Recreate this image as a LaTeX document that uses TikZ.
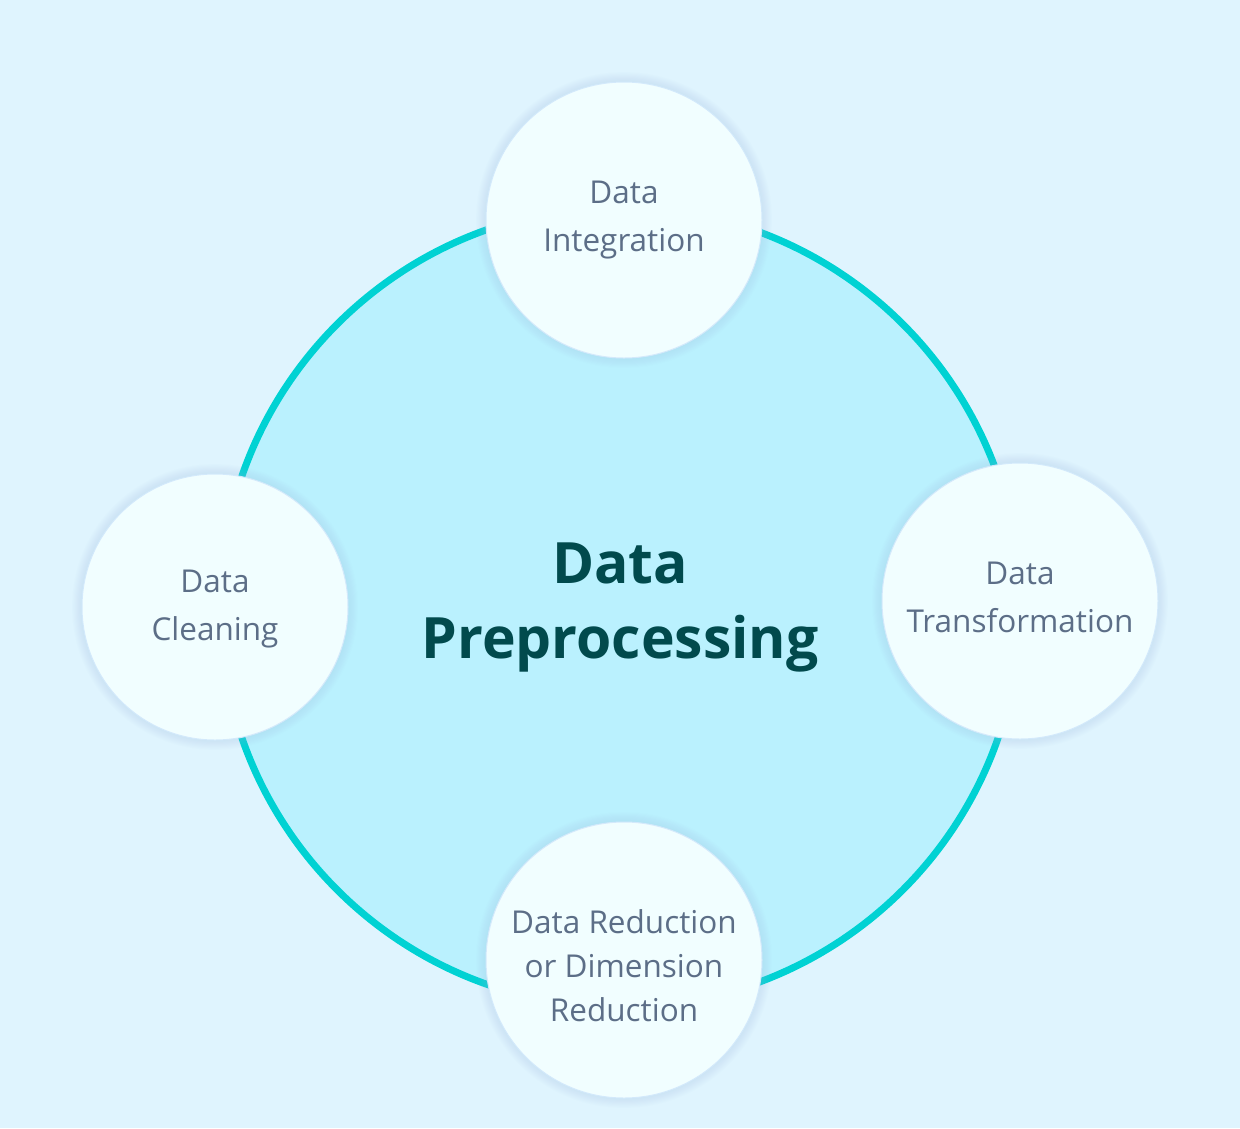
\documentclass[tikz,border=0pt]{standalone}
\usepackage{fontspec}
\setmainfont{Open Sans}
\definecolor{bgcol}{HTML}{DFF4FE}
\definecolor{corefill}{HTML}{BAF1FE}
\definecolor{ringcol}{HTML}{00D2D3}
\definecolor{bubblefill}{HTML}{F1FEFF}
\definecolor{bubbleedge}{HTML}{D3E9FB}
\definecolor{halo}{HTML}{9FC9F2}
\definecolor{labelcol}{HTML}{5C6E87}
\definecolor{titlecol}{HTML}{014A4D}
\tikzset{
  bubble/.style={circle, inner sep=0pt, minimum size=276pt, fill=bubblefill,
    draw=bubbleedge, line width=1pt, align=center, text=labelcol,
    font=\fontsize{31.5}{48}\selectfont},
  core/.style={circle, inner sep=0pt, minimum size=800pt, fill=corefill,
    draw=ringcol, line width=7pt, align=center, text=titlecol,
    font=\fontsize{57}{75}\selectfont\bfseries},
}
\newcommand{\halofor}[2]{%
  \foreach \k in {1,...,9}{%
    \fill[halo, opacity=0.03] (#1) circle[radius=#2+\k*1.1pt];
  }%
}
\begin{document}
\begin{tikzpicture}[x=1pt,y=-1pt]
\fill[bgcol] (0,0) rectangle (1240,1128);
\useasboundingbox (0,0) rectangle (1240,1128);
\node[core] (core) at (620,607) {Data\\Preprocessing};
\coordinate (cT) at (624,220);
\coordinate (cR) at (1020,601);
\coordinate (cB) at (624,960);
\coordinate (cL) at (215,607);
\halofor{cT}{138pt}
\halofor{cR}{138pt}
\halofor{cB}{138pt}
\halofor{cL}{133pt}
\node[bubble] (integ) at (cT) {Data\\Integration};
\node[bubble] (trans) at (cR) {Data\\Transformation\rule[-8pt]{0pt}{0pt}};
\node[bubble, font=\fontsize{31.5}{44}\selectfont] (reduc) at (cB) {\rule{0pt}{35pt}Data Reduction\\or Dimension\\Reduction};
\node[bubble, minimum size=266pt] (clean) at (cL) {\rule{0pt}{27pt}Data\\Cleaning};
\end{tikzpicture}
\end{document}
